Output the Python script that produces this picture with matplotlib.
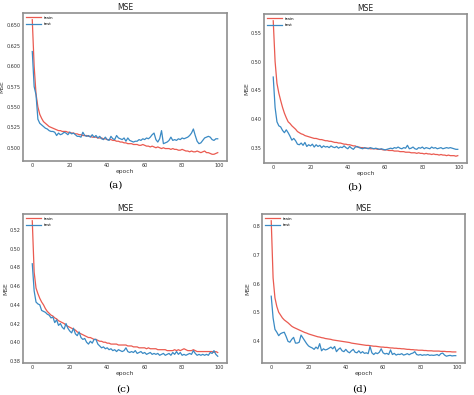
import numpy as np
import matplotlib
matplotlib.use("Agg")
import matplotlib.pyplot as plt

# ── Data ──────────────────────────────────────────────────────────────────────
epochs = np.arange(100)

train_a = [0.657, 0.600, 0.566, 0.550, 0.541, 0.536, 0.532, 0.530, 0.528, 0.526,
           0.525, 0.524, 0.523, 0.522, 0.521, 0.521, 0.520, 0.520, 0.520, 0.519,
           0.519, 0.518, 0.518, 0.517, 0.517, 0.516, 0.516, 0.515, 0.515, 0.515,
           0.514, 0.514, 0.513, 0.513, 0.513, 0.512, 0.512, 0.512, 0.511, 0.511,
           0.510, 0.510, 0.510, 0.509, 0.509, 0.508, 0.508, 0.507, 0.507, 0.506,
           0.506, 0.505, 0.505, 0.505, 0.504, 0.504, 0.504, 0.503, 0.503, 0.504,
           0.503, 0.502, 0.502, 0.501, 0.502, 0.501, 0.500, 0.501, 0.500, 0.499,
           0.500, 0.499, 0.499, 0.499, 0.498, 0.499, 0.498, 0.498, 0.497, 0.497,
           0.498, 0.497, 0.496, 0.496, 0.495, 0.496, 0.495, 0.495, 0.496, 0.495,
           0.494, 0.495, 0.496, 0.494, 0.494, 0.493, 0.492, 0.492, 0.493, 0.494]
test_a = [0.618, 0.575, 0.565, 0.535, 0.530, 0.528, 0.526, 0.524, 0.523, 0.521,
          0.520, 0.520, 0.519, 0.515, 0.518, 0.516, 0.517, 0.519, 0.518, 0.516,
          0.519, 0.517, 0.518, 0.516, 0.514, 0.514, 0.513, 0.519, 0.515, 0.514,
          0.515, 0.513, 0.516, 0.513, 0.515, 0.512, 0.514, 0.511, 0.510, 0.513,
          0.510, 0.509, 0.514, 0.511, 0.510, 0.515, 0.512, 0.511, 0.510, 0.512,
          0.508, 0.512, 0.509, 0.508, 0.507, 0.508, 0.508, 0.510, 0.509, 0.511,
          0.510, 0.512, 0.511, 0.513, 0.516, 0.518, 0.510, 0.507, 0.511, 0.521,
          0.505, 0.506, 0.507, 0.509, 0.513, 0.509, 0.510, 0.509, 0.511, 0.510,
          0.512, 0.511, 0.512, 0.513, 0.515, 0.518, 0.523, 0.515, 0.508, 0.505,
          0.506, 0.509, 0.512, 0.513, 0.514, 0.513, 0.510, 0.509, 0.511, 0.511]

train_b = [0.571, 0.500, 0.462, 0.445, 0.432, 0.420, 0.410, 0.402, 0.395, 0.392,
           0.388, 0.385, 0.382, 0.378, 0.376, 0.374, 0.373, 0.371, 0.370, 0.369,
           0.368, 0.367, 0.366, 0.366, 0.365, 0.364, 0.364, 0.363, 0.362, 0.362,
           0.361, 0.361, 0.360, 0.359, 0.359, 0.358, 0.358, 0.357, 0.356, 0.356,
           0.355, 0.355, 0.354, 0.353, 0.353, 0.351, 0.351, 0.350, 0.350, 0.349,
           0.349, 0.349, 0.348, 0.348, 0.348, 0.348, 0.347, 0.347, 0.347, 0.346,
           0.346, 0.346, 0.345, 0.345, 0.345, 0.344, 0.344, 0.344, 0.343, 0.343,
           0.343, 0.342, 0.342, 0.342, 0.341, 0.341, 0.341, 0.340, 0.341, 0.340,
           0.340, 0.339, 0.340, 0.339, 0.339, 0.338, 0.339, 0.338, 0.338, 0.337,
           0.338, 0.337, 0.337, 0.336, 0.337, 0.336, 0.336, 0.336, 0.335, 0.336]
test_b = [0.473, 0.420, 0.395, 0.388, 0.386, 0.380, 0.376, 0.381, 0.376, 0.370,
          0.363, 0.366, 0.362, 0.356, 0.355, 0.358, 0.354, 0.359, 0.352, 0.355,
          0.353, 0.356, 0.351, 0.355, 0.352, 0.354, 0.350, 0.353, 0.351, 0.352,
          0.350, 0.353, 0.351, 0.350, 0.352, 0.349, 0.351, 0.350, 0.353, 0.350,
          0.348, 0.352, 0.349, 0.347, 0.351, 0.352, 0.350, 0.349, 0.348, 0.350,
          0.349, 0.348, 0.350, 0.349, 0.348, 0.349, 0.348, 0.347, 0.348, 0.347,
          0.346, 0.347, 0.348, 0.349, 0.348, 0.350, 0.349, 0.351, 0.349, 0.348,
          0.350, 0.349, 0.354, 0.348, 0.349, 0.351, 0.348, 0.347, 0.350, 0.349,
          0.351, 0.348, 0.350, 0.349, 0.348, 0.351, 0.349, 0.350, 0.348, 0.349,
          0.350, 0.348, 0.349, 0.350, 0.349, 0.350, 0.349, 0.348, 0.347, 0.347]

train_c = [0.530, 0.475, 0.458, 0.452, 0.447, 0.443, 0.440, 0.436, 0.433, 0.431,
           0.429, 0.428, 0.426, 0.425, 0.423, 0.422, 0.421, 0.420, 0.418, 0.417,
           0.416, 0.415, 0.414, 0.413, 0.411, 0.410, 0.409, 0.408, 0.407, 0.406,
           0.405, 0.405, 0.404, 0.403, 0.403, 0.402, 0.401, 0.401, 0.400, 0.400,
           0.399, 0.399, 0.398, 0.398, 0.398, 0.398, 0.397, 0.397, 0.397, 0.397,
           0.397, 0.396, 0.396, 0.396, 0.395, 0.395, 0.395, 0.394, 0.394, 0.394,
           0.394, 0.393, 0.394, 0.393, 0.393, 0.393, 0.393, 0.392, 0.392, 0.392,
           0.392, 0.392, 0.391, 0.391, 0.391, 0.391, 0.392, 0.391, 0.392, 0.391,
           0.392, 0.393, 0.392, 0.391, 0.391, 0.391, 0.392, 0.391, 0.390, 0.390,
           0.390, 0.390, 0.390, 0.390, 0.390, 0.390, 0.390, 0.389, 0.390, 0.389]
test_c = [0.484, 0.455, 0.443, 0.441, 0.440, 0.434, 0.433, 0.432, 0.430, 0.429,
          0.426, 0.427, 0.421, 0.424, 0.418, 0.420, 0.416, 0.414, 0.420, 0.415,
          0.412, 0.410, 0.415, 0.409, 0.407, 0.411, 0.405, 0.403, 0.404, 0.400,
          0.398, 0.401, 0.399, 0.403, 0.403, 0.398, 0.396, 0.394, 0.395, 0.393,
          0.394, 0.392, 0.393, 0.391, 0.392, 0.390, 0.392, 0.391, 0.390, 0.391,
          0.394, 0.390, 0.389, 0.390, 0.389, 0.391, 0.388, 0.389, 0.390, 0.388,
          0.389, 0.387, 0.388, 0.389, 0.387, 0.388, 0.387, 0.388, 0.386, 0.387,
          0.388, 0.386, 0.387, 0.388, 0.386, 0.389, 0.387, 0.390, 0.387, 0.389,
          0.386, 0.387, 0.386, 0.387, 0.388, 0.387, 0.391, 0.388, 0.386, 0.387,
          0.386, 0.387, 0.386, 0.387, 0.386, 0.389, 0.388, 0.391, 0.387, 0.385]

train_d = [0.820, 0.620, 0.550, 0.520, 0.500, 0.490, 0.480, 0.473, 0.468, 0.463,
           0.457, 0.451, 0.447, 0.444, 0.441, 0.438, 0.435, 0.432, 0.429, 0.427,
           0.424, 0.422, 0.420, 0.418, 0.416, 0.414, 0.413, 0.411, 0.410, 0.408,
           0.407, 0.406, 0.405, 0.403, 0.402, 0.401, 0.400, 0.399, 0.398, 0.397,
           0.396, 0.395, 0.394, 0.392, 0.391, 0.390, 0.389, 0.388, 0.387, 0.386,
           0.385, 0.384, 0.384, 0.383, 0.382, 0.381, 0.381, 0.380, 0.379, 0.378,
           0.378, 0.377, 0.377, 0.376, 0.375, 0.375, 0.374, 0.374, 0.373, 0.373,
           0.372, 0.372, 0.371, 0.370, 0.370, 0.369, 0.369, 0.368, 0.368, 0.367,
           0.367, 0.367, 0.366, 0.366, 0.365, 0.365, 0.365, 0.364, 0.364, 0.364,
           0.364, 0.363, 0.363, 0.363, 0.362, 0.362, 0.362, 0.361, 0.361, 0.361]
test_d = [0.556, 0.480, 0.440, 0.430, 0.418, 0.425, 0.428, 0.430, 0.415, 0.398,
          0.395, 0.405, 0.412, 0.392, 0.392, 0.395, 0.420, 0.410, 0.400, 0.390,
          0.382, 0.378, 0.375, 0.370, 0.378, 0.372, 0.390, 0.365, 0.372, 0.368,
          0.370, 0.374, 0.378, 0.372, 0.380, 0.362, 0.370, 0.375, 0.365, 0.362,
          0.370, 0.362, 0.358, 0.365, 0.370, 0.360, 0.358, 0.365, 0.357, 0.362,
          0.356, 0.358, 0.355, 0.380, 0.358, 0.352, 0.358, 0.355, 0.360, 0.372,
          0.358, 0.354, 0.356, 0.352, 0.368, 0.352, 0.356, 0.350, 0.353, 0.352,
          0.355, 0.350, 0.352, 0.355, 0.351, 0.355, 0.357, 0.362, 0.352, 0.350,
          0.352, 0.349, 0.351, 0.350, 0.352, 0.349, 0.350, 0.349, 0.350, 0.352,
          0.348, 0.355, 0.357, 0.350, 0.346, 0.348, 0.349, 0.347, 0.348, 0.348]

y_ticks_a = [0.500, 0.525, 0.550, 0.575, 0.600, 0.625, 0.650]
y_ticks_b = [0.35, 0.40, 0.45, 0.50, 0.55]
y_ticks_c = [0.38, 0.40, 0.42, 0.44, 0.46, 0.48, 0.50, 0.52]
y_ticks_d = [0.4, 0.5, 0.6, 0.7, 0.8]
x_ticks = [0, 20, 40, 60, 80, 100]
captions = ["(a)", "(b)", "(c)", "(d)"]

# ── Layout (pixel boxes: left, right, top, bottom) ───────────────────────────
W, H = 474, 395
boxes = [(23, 227, 13, 161), (264, 467, 14, 163),
         (23, 227, 214, 363), (262, 465, 214, 363)]
cap_pos = [(115, 185), (355, 187), (123, 389), (360, 389)]

TRAIN_C = "#ea5a50"
TEST_C = "#3a8ac4"

fig = plt.figure(figsize=(W / 100, H / 100), dpi=100)

panels = [(train_a, test_a, y_ticks_a, "{:.3f}"),
          (train_b, test_b, y_ticks_b, "{:.2f}"),
          (train_c, test_c, y_ticks_c, "{:.2f}"),
          (train_d, test_d, y_ticks_d, "{:.1f}")]

for (tr, te, yt, fmt), (l, r, t, b), cap, (cx, cy) in zip(panels, boxes, captions, cap_pos):
    ax = fig.add_axes([l / W, 1 - b / H, (r - l) / W, (b - t) / H])
    ax.plot(epochs, tr, color=TRAIN_C, lw=0.9, label="train")
    ax.plot(epochs, te, color=TEST_C, lw=0.9, label="test")
    ax.set_xticks(x_ticks)
    ax.set_yticks(yt)
    ax.set_yticklabels([fmt.format(v) for v in yt])
    ax.tick_params(labelsize=3.5, length=0, pad=1.5, colors="#333333")
    for s in ax.spines.values():
        s.set_color("#8f8f8f")
        s.set_linewidth(1.2)
    ax.set_title("MSE", fontsize=5.5, pad=2, color="#222222")
    ax.set_xlabel("epoch", fontsize=4.3, labelpad=1, color="#333333")
    ax.set_ylabel("MSE", fontsize=4.3, labelpad=1.5, color="#333333")
    ax.legend(loc="upper left", fontsize=3, frameon=False, handlelength=3.5,
              borderaxespad=0.3, labelspacing=0.6)
    fig.text(cx / W, 1 - cy / H, cap, ha="center", va="center",
             fontsize=7.5, family="DejaVu Serif")

fig.savefig("out.png", dpi=100)
